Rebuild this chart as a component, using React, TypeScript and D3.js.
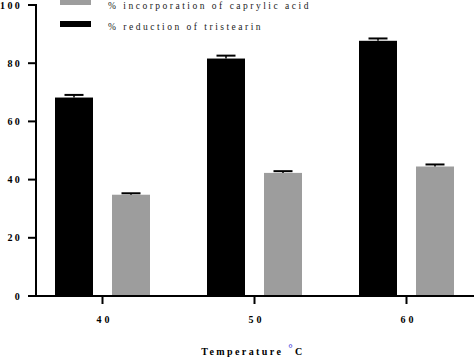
import React from 'react';
import * as d3 from 'd3';

const temperatures = ['40', '50', '60'];
const reduction = [68.2, 81.6, 87.7];
const reductionErr = [0.9, 1.0, 0.8];
const incorporation = [34.8, 42.3, 44.5];
const incorporationErr = [0.5, 0.6, 0.7];
const yTicks = [0, 20, 40, 60, 80, 100];
const seriesNames = ['% incorporation of caprylic acid', '% reduction of tristearin'];
const seriesColors = ['#9d9d9d', '#000000'];

const width = 474;
const height = 359;

export default function App() {
  const y = d3.scaleLinear().domain([0, 100]).range([296, 5]);
  const x = d3.scaleBand().domain(temperatures).range([26.5, 482.5]).paddingInner(0.375).paddingOuter(0.1875);
  const inner = d3.scaleBand().domain(['reduction', 'incorporation']).range([0, x.bandwidth()]).paddingInner(1 / 3);

  const font = '"Liberation Serif", "Times New Roman", serif';

  const series = [
    { key: 'reduction', values: reduction, errs: reductionErr, color: seriesColors[1] },
    { key: 'incorporation', values: incorporation, errs: incorporationErr, color: seriesColors[0] },
  ];

  return (
    <svg width={width} height={height} style={{ position: 'absolute', left: 0, top: 0, background: '#fff' }}>
      {/* bars */}
      {series.map(s =>
        temperatures.map((t, i) => {
          const bx = (x(t) as number) + (inner(s.key) as number);
          const bw = inner.bandwidth();
          const cx = bx + bw / 2;
          const top = y(s.values[i]);
          const errTop = y(s.values[i] + s.errs[i]);
          return (
            <g key={s.key + t}>
              <rect x={bx} y={top} width={bw} height={y(0) - top} fill={s.color} />
              <line x1={cx} x2={cx} y1={top} y2={errTop} stroke="#000" strokeWidth={1.5} />
              <line x1={cx - 9.5} x2={cx + 9.5} y1={errTop} y2={errTop} stroke="#000" strokeWidth={2} />
            </g>
          );
        })
      )}

      {/* y axis */}
      <line x1={36} x2={36} y1={y(100) - 1} y2={y(0) + 1} stroke="#000" strokeWidth={2} />
      {yTicks.map(t => (
        <g key={t}>
          <line x1={28} x2={36} y1={y(t)} y2={y(t)} stroke="#000" strokeWidth={2} />
          <text x={22} y={y(t)} dy="0.35em" textAnchor="end" fontFamily={font} fontWeight="bold" fontSize={10} letterSpacing={2.3}>
            {t}
          </text>
        </g>
      ))}

      {/* x axis */}
      <line x1={28} x2={474} y1={y(0)} y2={y(0)} stroke="#000" strokeWidth={2} />
      {temperatures.map(t => {
        const tx = (x(t) as number) + x.bandwidth() / 2;
        return (
          <g key={t}>
            <line x1={tx} x2={tx} y1={y(0)} y2={y(0) + 8} stroke="#000" strokeWidth={2} />
            <text x={tx + 2} y={323} textAnchor="middle" fontFamily={font} fontWeight="bold" fontSize={10} letterSpacing={3}>
              {t}
            </text>
          </g>
        );
      })}
      <text x={253} y={355} textAnchor="middle" fontFamily={font} fontWeight="bold" fontSize={10} letterSpacing={2.4}>
        Temperature <tspan fill="#3a3adb" dy={-3} fontSize={11}>°</tspan><tspan dy={3}>C</tspan>
      </text>

      {/* legend */}
      {seriesNames.map((name, i) => (
        <g key={name}>
          <rect x={60} y={-1 + i * 22} width={31} height={6} fill={seriesColors[i]} />
          <text x={108} y={9 + i * 21} fontFamily={font} fontSize={9.5} letterSpacing={2.5} fill="#222">
            {name}
          </text>
        </g>
      ))}
    </svg>
  );
}
